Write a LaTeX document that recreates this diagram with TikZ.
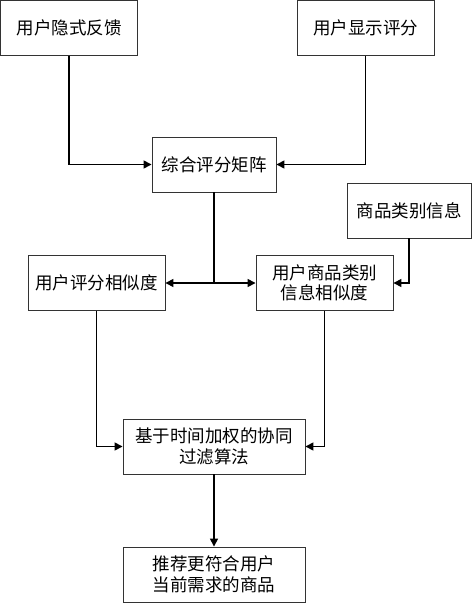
\documentclass[tikz,border=0pt]{standalone}
\usepackage{fontspec}
\usepackage{tikz}
\usetikzlibrary{arrows.meta}
\newfontfamily\cjk{Noto Sans CJK SC}

\begin{document}
\begin{tikzpicture}[x=1pt,y=-1pt,->,>={Triangle[length=8pt,width=8pt]},semithick,
  box/.style={rectangle,draw=black!80,line width=0.9pt,inner sep=0pt,align=center,
    font=\cjk\fontsize{17.5}{20.5}\selectfont},
  wide/.style={box,minimum width=137pt,minimum height=55pt},
  narrow/.style={box,minimum width=124pt,minimum height=55pt},
  long/.style={box,minimum width=182pt,minimum height=55pt},
  link/.style={line width=1.5pt,black}]
  \useasboundingbox (0,0) rectangle (474,605);
  % inputs
  \node[wide] (Imp) at (69,28) {用户隐式反馈};
  \node[wide] (Exp) at (365.5,28) {用户显示评分};
  \node[narrow] (Mat) at (214,164.5) {综合评分矩阵};
  \node[narrow] (Cat) at (409,210.5) {商品类别信息};
  % similarities
  \node[wide] (USim) at (96.5,283) {用户评分相似度};
  \node[wide] (CSim) at (324.5,283) {用户商品类别\\信息相似度};
  \node[long] (CF) at (214,446.5) {基于时间加权的协同\\过滤算法};
  \node[long] (Rec) at (214,574.5) {推荐更符合用户\\当前需求的商品};

  \draw[link] (Imp) |- (Mat);
  \draw[link] (Exp) |- (Mat);
  \draw[link] (Mat) |- (USim);
  \draw[link] (Mat) |- (CSim);
  \draw[link] (Cat) |- (CSim);
  \draw[link] (USim) |- (CF);
  \draw[link] (CSim) |- (CF);
  \draw[link] (CF) -- (Rec);
\end{tikzpicture}
\end{document}
